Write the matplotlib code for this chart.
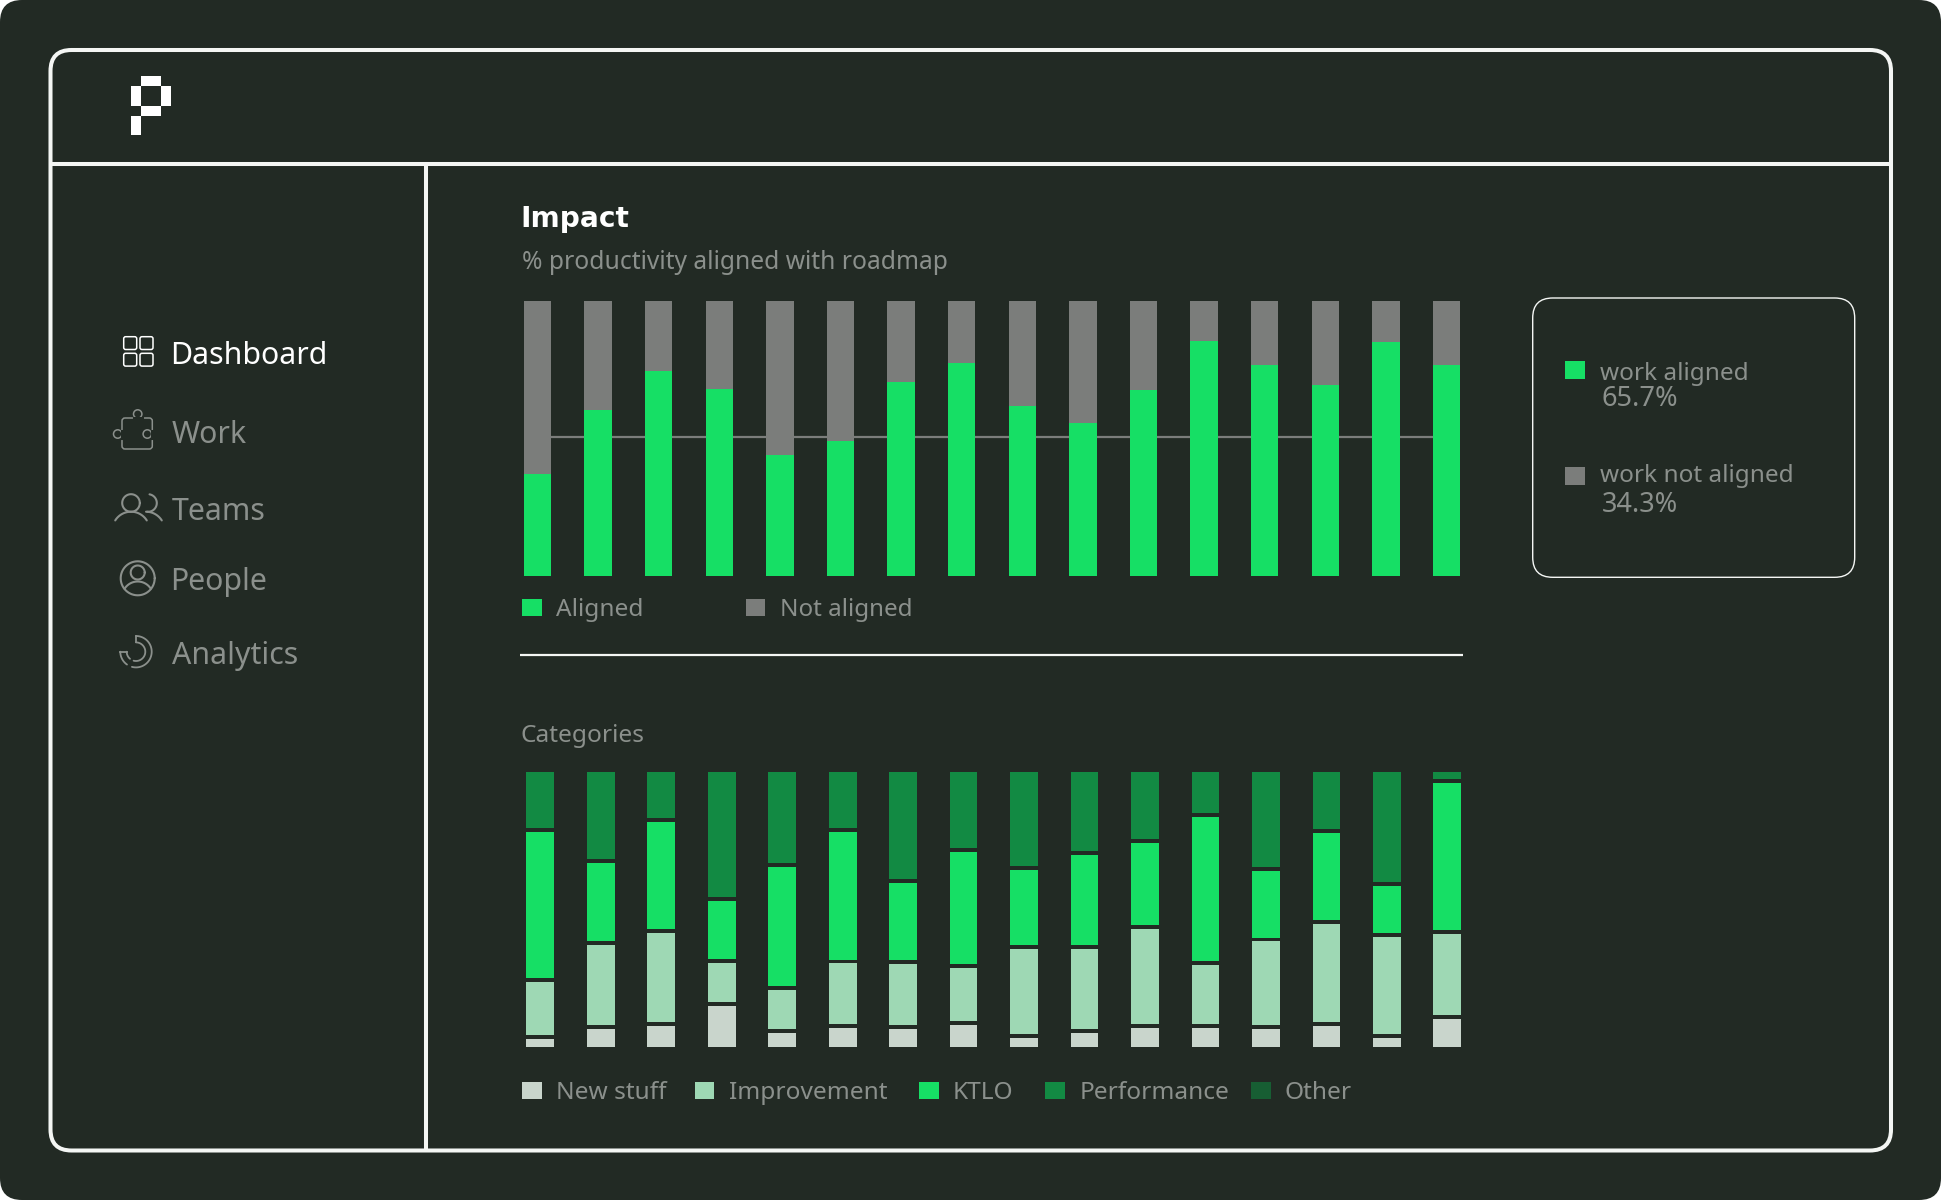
"""Impact dashboard mockup, stacked bars on a dark card."""

import numpy as np
import matplotlib
matplotlib.use("Agg")
import matplotlib.pyplot as plt
from matplotlib.patches import Circle, FancyBboxPatch, Rectangle

WIDTH, HEIGHT = 1941, 1201

BG = "#222A24"
FRAME = "#F4F6F4"
MUTED = "#8B908C"
GREEN = "#16DF65"
GREY = "#7B7D7B"
NEW_COLOR = "#C9D5CC"
IMPROVEMENT_COLOR = "#9ED8B4"
PERFORMANCE_COLOR = "#128A43"
OTHER_COLOR = "#175E33"

# top chart, % of work aligned per period
aligned = [37.1, 60.3, 74.5, 67.9, 43.8, 49.0, 70.5, 77.4,
           61.7, 55.7, 67.5, 85.5, 76.7, 69.5, 85.1, 76.6]
threshold = 50.4

# bottom chart, share per category
new_stuff = [3.6, 7.3, 8.6, 15.6, 5.9, 7.7, 7.3, 8.7,
             4.1, 5.9, 7.7, 7.7, 7.3, 8.6, 4.1, 11.0]
improvement = [20.7, 30.7, 33.6, 15.8, 15.6, 23.5, 23.7, 20.8,
               32.3, 30.4, 36.2, 22.8, 31.9, 36.8, 36.8, 31.1]
ktlo = [54.8, 29.6, 40.5, 22.4, 44.8, 47.7, 29.5, 42.2,
        28.7, 34.4, 31.0, 53.9, 25.6, 33.2, 18.4, 54.9]
performance = [20.9, 32.4, 17.3, 46.2, 33.7, 21.1, 39.5, 28.3,
               34.9, 29.3, 25.1, 15.6, 35.2, 21.4, 40.7, 3.0]

summary_labels = ["work aligned", "work not aligned"]
summary_values = ["65.7%", "34.3%"]
nav_items = ["Dashboard", "Work", "Teams", "People", "Analytics"]

plt.rcParams["font.family"] = ["Noto Sans", "DejaVu Sans"]

fig = plt.figure(figsize=(WIDTH / 100, HEIGHT / 100), dpi=100, facecolor="white")
canvas = fig.add_axes([0, 0, 1, 1])
canvas.set_xlim(0, WIDTH)
canvas.set_ylim(HEIGHT, 0)
canvas.axis("off")


def px_axes(left, top, right, bottom):
    ax = fig.add_axes([left / WIDTH, 1 - bottom / HEIGHT,
                       (right - left) / WIDTH, (bottom - top) / HEIGHT])
    ax.axis("off")
    return ax


def label(x, y, text, size=17.6, color=MUTED, **kw):
    canvas.text(x, y + 0.8, text, fontsize=size, color=color, va="baseline", ha="left", **kw)


def swatch(x, y, color, w=19.5, h=17.5):
    canvas.add_patch(Rectangle((x, y), w, h, facecolor=color, edgecolor="none"))


def arc(cx, cy, r, a1, a2, color, lw=1.5):
    # angles in screen degrees, 0 = right, 90 = down
    t = np.radians(np.linspace(a1, a2, 60))
    canvas.plot(cx + r * np.cos(t), cy + r * np.sin(t), color=color, lw=lw,
                solid_capstyle="round")


# card and frame
canvas.add_patch(FancyBboxPatch((0, 0), WIDTH, HEIGHT - 1,
                                boxstyle="round,pad=0,rounding_size=22",
                                facecolor=BG, edgecolor="none"))
canvas.add_patch(FancyBboxPatch((50.5, 50), 1840.5, 1100.5,
                                boxstyle="round,pad=0,rounding_size=21",
                                facecolor="none", edgecolor=FRAME, lw=2.9))
canvas.plot([50.5, 1891], [163.5, 163.5], color=FRAME, lw=2.9, solid_capstyle="butt")
canvas.plot([425.7, 425.7], [163.5, 1150], color=FRAME, lw=2.9, solid_capstyle="butt")

# pixel logo
cell = 9.8
logo_cells = [(1, 0), (2, 0), (0, 1), (3, 1), (0, 2), (3, 2), (1, 3), (2, 3), (0, 4), (0, 5)]
for col, row in logo_cells:
    canvas.add_patch(Rectangle((131.3 + col * cell, 76.3 + row * cell), cell, cell,
                               facecolor="white", edgecolor="none"))

# sidebar
nav_y = [363, 442, 519, 589, 663]
nav_x = [170.5, 171.5, 171.5, 170.5, 172]
for name, x, y in zip(nav_items, nav_x, nav_y):
    label(x, y, name, size=21.8, color="white" if name == "Dashboard" else MUTED)

# dashboard icon
for x in (123.7, 140):
    for y in (336.7, 353.3):
        canvas.add_patch(FancyBboxPatch((x, y), 13, 12.8,
                                        boxstyle="round,pad=0,rounding_size=2",
                                        facecolor="none", edgecolor="white", lw=1.1))

# puzzle icon
canvas.add_patch(FancyBboxPatch((122, 418), 30.3, 31,
                                boxstyle="round,pad=0,rounding_size=3",
                                facecolor="none", edgecolor=MUTED, lw=1.1))
for cx, cy in [(137.7, 414), (117.7, 434), (147.3, 434)]:
    canvas.add_patch(Circle((cx, cy), 4.2, facecolor=BG, edgecolor=MUTED, lw=1.1, zorder=3))
canvas.plot([134, 141.5], [418, 418], color=BG, lw=2.2, zorder=4)
canvas.plot([122, 122], [430.5, 437.5], color=BG, lw=2.2, zorder=4)
canvas.plot([152.3, 152.3], [430.5, 437.5], color=BG, lw=2.2, zorder=4)

# teams icon
arc(131, 503, 8.8, 0, 360, MUTED)
arc(131, 530.3, 18.6, 212, 328, MUTED)
arc(148, 503, 8.8, -80, 95, MUTED)
arc(146, 530.3, 18.6, 270, 328, MUTED)

# people icon
arc(137.7, 578.3, 17, 0, 360, MUTED)
arc(137.7, 572.5, 7, 0, 360, MUTED)
arc(137.7, 597, 15.5, 212, 328, MUTED)

# analytics icon
arc(136, 651.7, 15.7, -90, 105, MUTED, lw=1.3)
arc(136, 651.7, 9.3, -90, 105, MUTED, lw=1.3)
arc(136, 651.7, 15.7, 125, 180, MUTED, lw=1.3)
arc(136, 651.7, 9.3, 130, 180, MUTED, lw=1.3)
canvas.plot([136, 136], [636, 642.4], color=MUTED, lw=1.3)
canvas.plot([120.3, 126.7], [651.7, 651.7], color=MUTED, lw=1.3)

# titles
canvas.text(520, 226.7, "Impact", fontsize=20.2, color="white", fontweight="bold",
            family="DejaVu Sans", va="baseline", ha="left")
label(521.5, 268, "% productivity aligned with roadmap", size=17.7)

# top chart
periods = np.arange(len(aligned))
left_px, right_px = 520, 1464
spacing = 60.6
center0 = 537.5
ax_top = px_axes(left_px, 301, right_px, 575.7)
ax_top.set_xlim((left_px - center0) / spacing, (right_px - center0) / spacing)
ax_top.set_ylim(0, 100)
not_aligned = 100 - np.array(aligned)
ax_top.plot([periods[0], periods[-1]], [threshold, threshold], color=GREY, lw=1.6, zorder=1)
ax_top.bar(periods, aligned, width=0.454, color=GREEN, zorder=2)
ax_top.bar(periods, not_aligned, width=0.454, bottom=aligned, color=GREY, zorder=2)

swatch(522, 598.7, GREEN)
label(556, 615.7, "Aligned")
swatch(745.7, 598.7, GREY)
label(780, 615.7, "Not aligned", size=17.4)

canvas.plot([520, 1463.3], [655, 655], color=FRAME, lw=1.6, solid_capstyle="butt")

# bottom chart
label(521, 741.7, "Categories")
gap = 1.45
spacing2 = 60.47
center2 = 540.3
ax_bot = px_axes(left_px, 772.3, right_px, 1047.3)
ax_bot.set_xlim((left_px - center2) / spacing2, (right_px - center2) / spacing2)
ax_bot.set_ylim(0, 100)
stack = [new_stuff, improvement, ktlo, performance]
colors = [NEW_COLOR, IMPROVEMENT_COLOR, GREEN, PERFORMANCE_COLOR]
base = np.zeros(len(new_stuff))
for i, (values, color) in enumerate(zip(stack, colors)):
    values = np.array(values)
    # trim the inner edges so the segments sit apart
    low = base + (gap / 2 if i > 0 else 0)
    high = base + values - (gap / 2 if i < len(stack) - 1 else 0)
    ax_bot.bar(periods, high - low, width=0.46, bottom=low, color=color)
    base = base + values

legend_bottom = [("New stuff", 522, 556, NEW_COLOR),
                 ("Improvement", 694.7, 729, IMPROVEMENT_COLOR),
                 ("KTLO", 919.3, 953, GREEN),
                 ("Performance", 1045.3, 1079.5, PERFORMANCE_COLOR),
                 ("Other", 1251.3, 1284.5, OTHER_COLOR)]
for name, sx, tx, color in legend_bottom:
    swatch(sx, 1081.7, color)
    label(tx, 1098.3, name)

# summary box
canvas.add_patch(FancyBboxPatch((1532.7, 298), 322, 279.3,
                                boxstyle="round,pad=0,rounding_size=20",
                                facecolor="none", edgecolor=FRAME, lw=1.0))
swatch(1565, 361.3, GREEN)
label(1600, 379, summary_labels[0], size=17.5)
label(1601.7, 405.3, summary_values[0], size=19.5)
swatch(1565.3, 467, GREY)
label(1600, 481, summary_labels[1], size=17.5)
label(1602.3, 510.7, summary_values[1], size=19.5)

fig.savefig("out.png", dpi=100, facecolor=fig.get_facecolor())
